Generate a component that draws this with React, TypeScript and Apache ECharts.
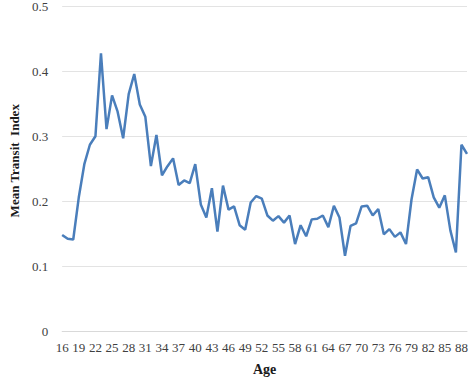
import React, { useEffect, useRef } from "react";
import * as echarts from "echarts";

const ages: string[] = [];
for (let a = 16; a <= 89; a++) ages.push(String(a));

const meanTransitIndex = [
  0.148, 0.142, 0.141, 0.206, 0.257, 0.287, 0.300, 0.428, 0.311, 0.363,
  0.338, 0.297, 0.365, 0.396, 0.349, 0.330, 0.254, 0.302, 0.240, 0.254,
  0.266, 0.225, 0.232, 0.228, 0.257, 0.195, 0.175, 0.220, 0.153, 0.224,
  0.187, 0.192, 0.163, 0.156, 0.198, 0.208, 0.204, 0.178, 0.170, 0.177,
  0.167, 0.178, 0.134, 0.163, 0.146, 0.172, 0.173, 0.178, 0.160, 0.193,
  0.175, 0.116, 0.162, 0.166, 0.192, 0.193, 0.178, 0.188, 0.149, 0.157,
  0.145, 0.152, 0.134, 0.203, 0.249, 0.235, 0.237, 0.206, 0.190, 0.209,
  0.155, 0.121, 0.287, 0.273,
];

const yTicks = { min: 0, max: 0.5, interval: 0.1 };

export default function App() {
  const ref = useRef<HTMLDivElement>(null);
  useEffect(() => {
    if (!ref.current) return;
    const chart = echarts.init(ref.current, undefined, { renderer: "svg" });
    const font = "'Liberation Serif', 'Times New Roman', serif";
    chart.setOption({
      animation: false,
      backgroundColor: "#ffffff",
      grid: { left: 52, right: 7, top: 5, bottom: 45, containLabel: false },
      xAxis: {
        type: "category",
        data: ages,
        boundaryGap: false,
        name: "Age",
        nameLocation: "middle",
        nameGap: 31,
        nameTextStyle: { fontFamily: font, fontSize: 14, fontWeight: "bold", color: "#1a1a1a" },
        axisLine: { lineStyle: { color: "#d9d9d9", width: 1 } },
        axisTick: { show: false },
        axisLabel: {
          interval: 2,
          margin: 10,
          fontFamily: font,
          fontSize: 13,
          color: "#404040",
        },
      },
      yAxis: {
        type: "value",
        min: yTicks.min,
        max: yTicks.max,
        interval: yTicks.interval,
        name: "Mean Transit  Index",
        nameLocation: "middle",
        nameGap: 37,
        nameTextStyle: {
          fontFamily: font,
          fontSize: 13,
          fontWeight: "bold",
          color: "#1a1a1a",
          padding: [0, 0, 0, 16],
        },
        axisLine: { show: false },
        axisTick: { show: false },
        splitLine: { lineStyle: { color: "#e3e3e3", width: 1 } },
        axisLabel: {
          margin: 14,
          fontFamily: font,
          fontSize: 13,
          color: "#404040",
          formatter: (v: number) => (v === 0 ? "0" : String(Math.round(v * 10) / 10)),
        },
      },
      series: [
        {
          type: "line",
          data: meanTransitIndex,
          symbol: "none",
          lineStyle: { color: "#4a7ebb", width: 2.5 },
          itemStyle: { color: "#4a7ebb" },
        },
      ],
    });
    return () => chart.dispose();
  }, []);
  return (
    <div
      ref={ref}
      style={{ position: "fixed", left: 0, top: 0, width: 474, height: 381 }}
    />
  );
}
